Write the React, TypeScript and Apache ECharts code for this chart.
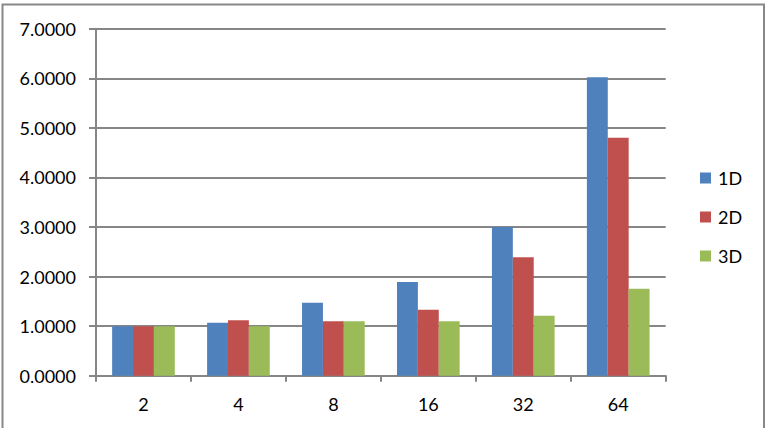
import React, { useEffect, useRef } from "react";
import * as echarts from "echarts";

const categories = ["2", "4", "8", "16", "32", "64"];
const seriesNames = ["1D", "2D", "3D"];
const values1D = [1.0, 1.07, 1.47, 1.89, 3.0, 6.02];
const values2D = [1.0, 1.12, 1.1, 1.33, 2.39, 4.8];
const values3D = [1.0, 1.0, 1.1, 1.1, 1.21, 1.755];
const colors = ["#4F81BD", "#C0504D", "#9BBB59"];

const FONT = "Lato, 'Open Sans', sans-serif";

export default function App() {
  const ref = useRef<HTMLDivElement>(null);
  useEffect(() => {
    if (!ref.current) return;
    const chart = echarts.init(ref.current, null, { renderer: "svg" });
    const allValues = [values1D, values2D, values3D];
    chart.setOption({
      animation: false,
      backgroundColor: "#ffffff",
      textStyle: { fontFamily: FONT },
      grid: { left: 96, top: 28.7, right: 104.3, bottom: 57.3, containLabel: false },
      legend: {
        orient: "vertical",
        left: 700,
        top: 169,
        itemWidth: 11,
        itemHeight: 11,
        itemGap: 21,
        icon: "rect",
        data: seriesNames,
        padding: 0,
        textStyle: { fontSize: 18, color: "#000", fontFamily: FONT, padding: [0, 0, 0, 2] },
      },
      xAxis: {
        type: "category",
        data: categories,
        axisLine: { lineStyle: { color: "#868686", width: 2 } },
        axisTick: { show: true, length: 6, lineStyle: { color: "#868686", width: 2 } },
        axisLabel: { fontSize: 18, color: "#000", margin: 19, fontFamily: FONT },
      },
      yAxis: {
        type: "value",
        min: 0,
        max: 7,
        interval: 1,
        axisLine: { show: true, lineStyle: { color: "#868686", width: 2 } },
        axisTick: { show: true, length: 7, lineStyle: { color: "#868686", width: 2 } },
        splitLine: { lineStyle: { color: "#868686", width: 2 } },
        axisLabel: {
          fontSize: 18,
          color: "#000",
          margin: 20,
          fontFamily: FONT,
          formatter: (v: number) => v.toFixed(4),
        },
      },
      series: seriesNames.map((name, i) => ({
        name,
        type: "bar",
        data: allValues[i],
        barGap: "0%",
        barCategoryGap: "34%",
        itemStyle: { color: colors[i] },
      })),
      graphic: [
        {
          type: "polyline",
          shape: { points: [[2.5, 428], [2.5, 4.5], [764, 4.5], [764, 428]] },
          style: { stroke: "#888888", lineWidth: 2, fill: "none" },
          silent: true,
        },
      ],
    });
    return () => chart.dispose();
  }, []);
  return (
    <div
      ref={ref}
      style={{ position: "fixed", left: 0, top: 0, width: 770, height: 433 }}
    />
  );
}
